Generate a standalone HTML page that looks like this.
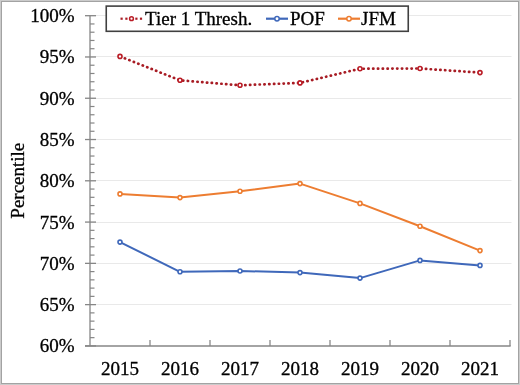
<!DOCTYPE html>
<html><head><meta charset="utf-8"><style>
html,body{margin:0;padding:0;background:#fff;}
body{width:520px;height:385px;position:relative;overflow:hidden;}
</style></head><body>
<svg width="520" height="385" viewBox="0 0 520 385" style="position:absolute;left:0;top:0"><rect x="0.5" y="0.5" width="519" height="384" fill="none" stroke="#CBCBCB" stroke-width="1"/><rect x="1.5" y="1.5" width="517" height="382" fill="none" stroke="#A3A3A3" stroke-width="1"/><line x1="90" y1="15.5" x2="511.5" y2="15.5" stroke="#E9E9E9" stroke-width="1"/><line x1="90" y1="56.5" x2="511.5" y2="56.5" stroke="#E9E9E9" stroke-width="1"/><line x1="90" y1="98.5" x2="511.5" y2="98.5" stroke="#E9E9E9" stroke-width="1"/><line x1="90" y1="139.5" x2="511.5" y2="139.5" stroke="#E9E9E9" stroke-width="1"/><line x1="90" y1="180.5" x2="511.5" y2="180.5" stroke="#E9E9E9" stroke-width="1"/><line x1="90" y1="222.5" x2="511.5" y2="222.5" stroke="#E9E9E9" stroke-width="1"/><line x1="90" y1="263.5" x2="511.5" y2="263.5" stroke="#E9E9E9" stroke-width="1"/><line x1="90" y1="304.5" x2="511.5" y2="304.5" stroke="#E9E9E9" stroke-width="1"/><line x1="90" y1="15.7" x2="90" y2="345.9" stroke="#868686" stroke-width="1.3"/><line x1="85" y1="15.7" x2="96" y2="15.7" stroke="#868686" stroke-width="1.3"/><line x1="90" y1="23.955" x2="94.5" y2="23.955" stroke="#868686" stroke-width="1.2"/><line x1="90" y1="32.209999999999994" x2="94.5" y2="32.209999999999994" stroke="#868686" stroke-width="1.2"/><line x1="90" y1="40.464999999999996" x2="94.5" y2="40.464999999999996" stroke="#868686" stroke-width="1.2"/><line x1="90" y1="48.72" x2="94.5" y2="48.72" stroke="#868686" stroke-width="1.2"/><line x1="85" y1="56.974999999999994" x2="96" y2="56.974999999999994" stroke="#868686" stroke-width="1.3"/><line x1="90" y1="65.22999999999999" x2="94.5" y2="65.22999999999999" stroke="#868686" stroke-width="1.2"/><line x1="90" y1="73.485" x2="94.5" y2="73.485" stroke="#868686" stroke-width="1.2"/><line x1="90" y1="81.74" x2="94.5" y2="81.74" stroke="#868686" stroke-width="1.2"/><line x1="90" y1="89.99499999999999" x2="94.5" y2="89.99499999999999" stroke="#868686" stroke-width="1.2"/><line x1="85" y1="98.25" x2="96" y2="98.25" stroke="#868686" stroke-width="1.3"/><line x1="90" y1="106.505" x2="94.5" y2="106.505" stroke="#868686" stroke-width="1.2"/><line x1="90" y1="114.75999999999999" x2="94.5" y2="114.75999999999999" stroke="#868686" stroke-width="1.2"/><line x1="90" y1="123.01499999999999" x2="94.5" y2="123.01499999999999" stroke="#868686" stroke-width="1.2"/><line x1="90" y1="131.27" x2="94.5" y2="131.27" stroke="#868686" stroke-width="1.2"/><line x1="85" y1="139.525" x2="96" y2="139.525" stroke="#868686" stroke-width="1.3"/><line x1="90" y1="147.77999999999997" x2="94.5" y2="147.77999999999997" stroke="#868686" stroke-width="1.2"/><line x1="90" y1="156.03499999999997" x2="94.5" y2="156.03499999999997" stroke="#868686" stroke-width="1.2"/><line x1="90" y1="164.28999999999996" x2="94.5" y2="164.28999999999996" stroke="#868686" stroke-width="1.2"/><line x1="90" y1="172.545" x2="94.5" y2="172.545" stroke="#868686" stroke-width="1.2"/><line x1="85" y1="180.79999999999998" x2="96" y2="180.79999999999998" stroke="#868686" stroke-width="1.3"/><line x1="90" y1="189.05499999999998" x2="94.5" y2="189.05499999999998" stroke="#868686" stroke-width="1.2"/><line x1="90" y1="197.30999999999997" x2="94.5" y2="197.30999999999997" stroke="#868686" stroke-width="1.2"/><line x1="90" y1="205.56499999999997" x2="94.5" y2="205.56499999999997" stroke="#868686" stroke-width="1.2"/><line x1="90" y1="213.81999999999996" x2="94.5" y2="213.81999999999996" stroke="#868686" stroke-width="1.2"/><line x1="85" y1="222.075" x2="96" y2="222.075" stroke="#868686" stroke-width="1.3"/><line x1="90" y1="230.32999999999996" x2="94.5" y2="230.32999999999996" stroke="#868686" stroke-width="1.2"/><line x1="90" y1="238.58499999999998" x2="94.5" y2="238.58499999999998" stroke="#868686" stroke-width="1.2"/><line x1="90" y1="246.84" x2="94.5" y2="246.84" stroke="#868686" stroke-width="1.2"/><line x1="90" y1="255.09499999999997" x2="94.5" y2="255.09499999999997" stroke="#868686" stroke-width="1.2"/><line x1="85" y1="263.35" x2="96" y2="263.35" stroke="#868686" stroke-width="1.3"/><line x1="90" y1="271.60499999999996" x2="94.5" y2="271.60499999999996" stroke="#868686" stroke-width="1.2"/><line x1="90" y1="279.85999999999996" x2="94.5" y2="279.85999999999996" stroke="#868686" stroke-width="1.2"/><line x1="90" y1="288.115" x2="94.5" y2="288.115" stroke="#868686" stroke-width="1.2"/><line x1="90" y1="296.36999999999995" x2="94.5" y2="296.36999999999995" stroke="#868686" stroke-width="1.2"/><line x1="85" y1="304.625" x2="96" y2="304.625" stroke="#868686" stroke-width="1.3"/><line x1="90" y1="312.87999999999994" x2="94.5" y2="312.87999999999994" stroke="#868686" stroke-width="1.2"/><line x1="90" y1="321.135" x2="94.5" y2="321.135" stroke="#868686" stroke-width="1.2"/><line x1="90" y1="329.39" x2="94.5" y2="329.39" stroke="#868686" stroke-width="1.2"/><line x1="90" y1="337.645" x2="94.5" y2="337.645" stroke="#868686" stroke-width="1.2"/><line x1="85" y1="345.9" x2="96" y2="345.9" stroke="#868686" stroke-width="1.3"/><line x1="85" y1="345.9" x2="510.65" y2="345.9" stroke="#868686" stroke-width="1.5"/><line x1="150" y1="345.9" x2="150" y2="339.9" stroke="#868686" stroke-width="1.25"/><line x1="210" y1="345.9" x2="210" y2="339.9" stroke="#868686" stroke-width="1.25"/><line x1="270" y1="345.9" x2="270" y2="339.9" stroke="#868686" stroke-width="1.25"/><line x1="330" y1="345.9" x2="330" y2="339.9" stroke="#868686" stroke-width="1.25"/><line x1="390" y1="345.9" x2="390" y2="339.9" stroke="#868686" stroke-width="1.25"/><line x1="450" y1="345.9" x2="450" y2="339.9" stroke="#868686" stroke-width="1.25"/><line x1="510" y1="345.9" x2="510" y2="339.9" stroke="#868686" stroke-width="1.25"/><text x="74.5" y="22.2" text-anchor="end" font-family='"Liberation Serif", "Times New Roman", serif' font-size="19" fill="#000" stroke="#000" stroke-width="0.3">100%</text><text x="74.5" y="63.474999999999994" text-anchor="end" font-family='"Liberation Serif", "Times New Roman", serif' font-size="19" fill="#000" stroke="#000" stroke-width="0.3">95%</text><text x="74.5" y="104.75" text-anchor="end" font-family='"Liberation Serif", "Times New Roman", serif' font-size="19" fill="#000" stroke="#000" stroke-width="0.3">90%</text><text x="74.5" y="146.025" text-anchor="end" font-family='"Liberation Serif", "Times New Roman", serif' font-size="19" fill="#000" stroke="#000" stroke-width="0.3">85%</text><text x="74.5" y="187.29999999999998" text-anchor="end" font-family='"Liberation Serif", "Times New Roman", serif' font-size="19" fill="#000" stroke="#000" stroke-width="0.3">80%</text><text x="74.5" y="228.575" text-anchor="end" font-family='"Liberation Serif", "Times New Roman", serif' font-size="19" fill="#000" stroke="#000" stroke-width="0.3">75%</text><text x="74.5" y="269.85" text-anchor="end" font-family='"Liberation Serif", "Times New Roman", serif' font-size="19" fill="#000" stroke="#000" stroke-width="0.3">70%</text><text x="74.5" y="311.125" text-anchor="end" font-family='"Liberation Serif", "Times New Roman", serif' font-size="19" fill="#000" stroke="#000" stroke-width="0.3">65%</text><text x="74.5" y="352.4" text-anchor="end" font-family='"Liberation Serif", "Times New Roman", serif' font-size="19" fill="#000" stroke="#000" stroke-width="0.3">60%</text><text x="120" y="374.8" text-anchor="middle" font-family='"Liberation Serif", "Times New Roman", serif' font-size="19" fill="#000" stroke="#000" stroke-width="0.3">2015</text><text x="180" y="374.8" text-anchor="middle" font-family='"Liberation Serif", "Times New Roman", serif' font-size="19" fill="#000" stroke="#000" stroke-width="0.3">2016</text><text x="240" y="374.8" text-anchor="middle" font-family='"Liberation Serif", "Times New Roman", serif' font-size="19" fill="#000" stroke="#000" stroke-width="0.3">2017</text><text x="300" y="374.8" text-anchor="middle" font-family='"Liberation Serif", "Times New Roman", serif' font-size="19" fill="#000" stroke="#000" stroke-width="0.3">2018</text><text x="360" y="374.8" text-anchor="middle" font-family='"Liberation Serif", "Times New Roman", serif' font-size="19" fill="#000" stroke="#000" stroke-width="0.3">2019</text><text x="420" y="374.8" text-anchor="middle" font-family='"Liberation Serif", "Times New Roman", serif' font-size="19" fill="#000" stroke="#000" stroke-width="0.3">2020</text><text x="480" y="374.8" text-anchor="middle" font-family='"Liberation Serif", "Times New Roman", serif' font-size="19" fill="#000" stroke="#000" stroke-width="0.3">2021</text><text transform="translate(24.2,180.7) rotate(-90)" text-anchor="middle" font-family='"Liberation Serif", "Times New Roman", serif' font-size="19" fill="#000" stroke="#000" stroke-width="0.3">Percentile</text><polyline points="120,242.10 180,271.80 240,271.00 300,272.60 360,278.10 420,260.40 480,265.40" fill="none" stroke="#3F68BA" stroke-width="2.0" stroke-linejoin="round"/><polyline points="120,193.90 180,197.60 240,191.30 300,183.60 360,203.40 420,226.30 480,250.60" fill="none" stroke="#ED7D31" stroke-width="2.0" stroke-linejoin="round"/><polyline points="120,56.40 180,80.30 240,85.30 300,82.90 360,68.75 420,68.50 480,72.60" fill="none" stroke="#A81C24" stroke-width="2.7" stroke-linecap="round" stroke-dasharray="0.3 4.5" stroke-dashoffset="-0.4"/><circle cx="120" cy="242.10" r="2.0" fill="#fff" stroke="#3F68BA" stroke-width="1.6"/><circle cx="180" cy="271.80" r="2.0" fill="#fff" stroke="#3F68BA" stroke-width="1.6"/><circle cx="240" cy="271.00" r="2.0" fill="#fff" stroke="#3F68BA" stroke-width="1.6"/><circle cx="300" cy="272.60" r="2.0" fill="#fff" stroke="#3F68BA" stroke-width="1.6"/><circle cx="360" cy="278.10" r="2.0" fill="#fff" stroke="#3F68BA" stroke-width="1.6"/><circle cx="420" cy="260.40" r="2.0" fill="#fff" stroke="#3F68BA" stroke-width="1.6"/><circle cx="480" cy="265.40" r="2.0" fill="#fff" stroke="#3F68BA" stroke-width="1.6"/><circle cx="120" cy="193.90" r="2.0" fill="#fff" stroke="#ED7D31" stroke-width="1.6"/><circle cx="180" cy="197.60" r="2.0" fill="#fff" stroke="#ED7D31" stroke-width="1.6"/><circle cx="240" cy="191.30" r="2.0" fill="#fff" stroke="#ED7D31" stroke-width="1.6"/><circle cx="300" cy="183.60" r="2.0" fill="#fff" stroke="#ED7D31" stroke-width="1.6"/><circle cx="360" cy="203.40" r="2.0" fill="#fff" stroke="#ED7D31" stroke-width="1.6"/><circle cx="420" cy="226.30" r="2.0" fill="#fff" stroke="#ED7D31" stroke-width="1.6"/><circle cx="480" cy="250.60" r="2.0" fill="#fff" stroke="#ED7D31" stroke-width="1.6"/><circle cx="120" cy="56.40" r="2.0" fill="#fff" stroke="#BA1C26" stroke-width="1.6"/><circle cx="180" cy="80.30" r="2.0" fill="#fff" stroke="#BA1C26" stroke-width="1.6"/><circle cx="240" cy="85.30" r="2.0" fill="#fff" stroke="#BA1C26" stroke-width="1.6"/><circle cx="300" cy="82.90" r="2.0" fill="#fff" stroke="#BA1C26" stroke-width="1.6"/><circle cx="360" cy="68.75" r="2.0" fill="#fff" stroke="#BA1C26" stroke-width="1.6"/><circle cx="420" cy="68.50" r="2.0" fill="#fff" stroke="#BA1C26" stroke-width="1.6"/><circle cx="480" cy="72.60" r="2.0" fill="#fff" stroke="#BA1C26" stroke-width="1.6"/><rect x="106.25" y="6.1" width="302" height="25.2" fill="#fff" stroke="#404040" stroke-width="1.6"/><rect x="120.5" y="17.599999999999998" width="2.2" height="2.2" fill="#A81C24"/><rect x="125.30000000000001" y="17.599999999999998" width="2.2" height="2.2" fill="#A81C24"/><rect x="135.3" y="17.599999999999998" width="2.2" height="2.2" fill="#A81C24"/><rect x="139.9" y="17.599999999999998" width="2.2" height="2.2" fill="#A81C24"/><circle cx="131.5" cy="18.7" r="1.9" fill="#fff" stroke="#BA1C26" stroke-width="1.5"/><text x="145" y="25.2" font-family='"Liberation Serif", "Times New Roman", serif' font-size="19" fill="#000" stroke="#000" stroke-width="0.3">Tier 1 Thresh.</text><line x1="266" y1="18.7" x2="288" y2="18.7" stroke="#3F68BA" stroke-width="2.2"/><circle cx="277" cy="18.7" r="2.2" fill="#fff" stroke="#3F68BA" stroke-width="1.5"/><text x="290" y="25.2" font-family='"Liberation Serif", "Times New Roman", serif' font-size="19" fill="#000" stroke="#000" stroke-width="0.3">POF</text><line x1="338" y1="18.7" x2="360" y2="18.7" stroke="#ED7D31" stroke-width="2.2"/><circle cx="349" cy="18.7" r="2.2" fill="#fff" stroke="#ED7D31" stroke-width="1.5"/><text x="361" y="25.2" font-family='"Liberation Serif", "Times New Roman", serif' font-size="19" fill="#000" stroke="#000" stroke-width="0.3">JFM</text></svg>
</body></html>
